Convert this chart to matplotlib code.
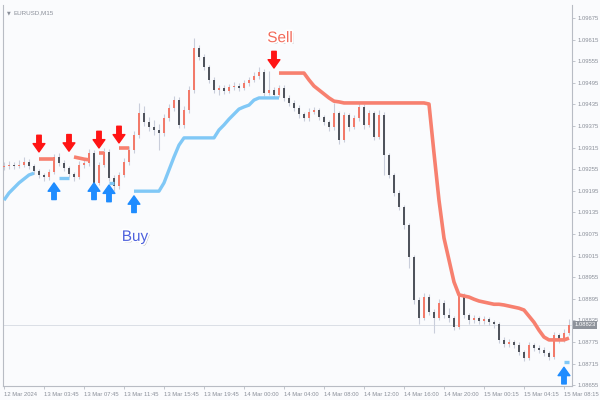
import numpy as np
import matplotlib
matplotlib.use("Agg")
import matplotlib.pyplot as plt
import matplotlib.patheffects as pe

# EURUSD M15 candles (open of first bar, then closes / highs / lows)
first_open = 1.09262
closes = [
    1.09264, 1.09267, 1.09264, 1.09267, 1.09275, 1.09264, 1.09250, 1.09239, 1.09233, 1.09247,
    1.09289, 1.09272, 1.09258, 1.09242, 1.09233, 1.09267, 1.09272, 1.09300, 1.09217, 1.09267,
    1.09303, 1.09230, 1.09208, 1.09239, 1.09275, 1.09308, 1.09350, 1.09411, 1.09386, 1.09372,
    1.09364, 1.09356, 1.09397, 1.09425, 1.09447, 1.09378, 1.09419, 1.09475, 1.09592, 1.09567,
    1.09539, 1.09503, 1.09475, 1.09481, 1.09472, 1.09483, 1.09486, 1.09481, 1.09494, 1.09503,
    1.09514, 1.09525, 1.09467, 1.09475, 1.09461, 1.09481, 1.09453, 1.09439, 1.09425, 1.09408,
    1.09397, 1.09414, 1.09419, 1.09400, 1.09386, 1.09372, 1.09411, 1.09336, 1.09406, 1.09372,
    1.09397, 1.09428, 1.09378, 1.09411, 1.09344, 1.09406, 1.09294, 1.09239, 1.09189, 1.09150,
    1.09100, 1.09011, 1.08892, 1.08842, 1.08900, 1.08858, 1.08842, 1.08883, 1.08850, 1.08842,
    1.08817, 1.08906, 1.08850, 1.08836, 1.08842, 1.08833, 1.08839, 1.08830, 1.08825, 1.08781,
    1.08769, 1.08775, 1.08767, 1.08747, 1.08730, 1.08767, 1.08758, 1.08753, 1.08744, 1.08733,
    1.08794, 1.08781, 1.08800, 1.08823]
highs = [
    1.09275, 1.09278, 1.09275, 1.09280, 1.09289, 1.09283, 1.09270, 1.09256, 1.09245, 1.09256,
    1.09298, 1.09300, 1.09280, 1.09264, 1.09248, 1.09278, 1.09283, 1.09310, 1.09308, 1.09275,
    1.09314, 1.09310, 1.09238, 1.09248, 1.09286, 1.09320, 1.09362, 1.09440, 1.09430, 1.09400,
    1.09392, 1.09380, 1.09408, 1.09436, 1.09458, 1.09455, 1.09430, 1.09486, 1.09620, 1.09600,
    1.09575, 1.09545, 1.09510, 1.09490, 1.09490, 1.09492, 1.09498, 1.09495, 1.09504, 1.09512,
    1.09525, 1.09540, 1.09532, 1.09528, 1.09484, 1.09490, 1.09488, 1.09460, 1.09446, 1.09432,
    1.09414, 1.09424, 1.09428, 1.09426, 1.09406, 1.09392, 1.09440, 1.09418, 1.09414, 1.09412,
    1.09406, 1.09440, 1.09436, 1.09420, 1.09418, 1.09420, 1.09414, 1.09300, 1.09245, 1.09196,
    1.09156, 1.09106, 1.09018, 1.08900, 1.08912, 1.08908, 1.08866, 1.08895, 1.08892, 1.08870,
    1.08848, 1.08914, 1.08912, 1.08856, 1.08850, 1.08848, 1.08846, 1.08845, 1.08836, 1.08832,
    1.08790, 1.08784, 1.08782, 1.08774, 1.08752, 1.08776, 1.08772, 1.08766, 1.08760, 1.08750,
    1.08802, 1.08800, 1.08810, 1.08840]
lows = [
    1.09252, 1.09256, 1.09255, 1.09258, 1.09260, 1.09255, 1.09242, 1.09230, 1.09222, 1.09226,
    1.09242, 1.09265, 1.09250, 1.09234, 1.09222, 1.09228, 1.09258, 1.09264, 1.09208, 1.09210,
    1.09260, 1.09222, 1.09194, 1.09200, 1.09232, 1.09268, 1.09300, 1.09342, 1.09375, 1.09360,
    1.09350, 1.09308, 1.09348, 1.09390, 1.09418, 1.09370, 1.09370, 1.09412, 1.09468, 1.09558,
    1.09530, 1.09495, 1.09466, 1.09462, 1.09464, 1.09466, 1.09476, 1.09472, 1.09475, 1.09486,
    1.09496, 1.09506, 1.09458, 1.09460, 1.09452, 1.09455, 1.09445, 1.09430, 1.09416, 1.09398,
    1.09388, 1.09390, 1.09408, 1.09392, 1.09378, 1.09362, 1.09365, 1.09325, 1.09330, 1.09362,
    1.09366, 1.09390, 1.09368, 1.09372, 1.09336, 1.09338, 1.09240, 1.09230, 1.09180, 1.09142,
    1.09090, 1.08980, 1.08880, 1.08825, 1.08836, 1.08850, 1.08800, 1.08836, 1.08842, 1.08832,
    1.08808, 1.08810, 1.08842, 1.08826, 1.08828, 1.08825, 1.08826, 1.08822, 1.08815, 1.08772,
    1.08760, 1.08762, 1.08758, 1.08740, 1.08722, 1.08724, 1.08750, 1.08745, 1.08736, 1.08725,
    1.08728, 1.08772, 1.08774, 1.08795]

# trailing stop lines: (first bar, values)
sell_stop = [
    (7, [1.09284, 1.09284, 1.09284, 1.09284]),
    (14, [1.09289, 1.09286, 1.09283, 1.09281]),
    (19, [1.09300, 1.09300]),
    (23, [1.09314, 1.09314, 1.09314]),
    (55, [1.09522, 1.09522, 1.09522, 1.09522, 1.09522, 1.09522, 1.09503, 1.09486, 1.09475,
          1.09464, 1.09453, 1.09444, 1.09442, 1.09439, 1.09439, 1.09439, 1.09439, 1.09439,
          1.09439, 1.09439, 1.09439, 1.09439, 1.09439, 1.09439, 1.09439, 1.09439, 1.09439,
          1.09439, 1.09439, 1.09439, 1.09436, 1.09300, 1.09169, 1.09064, 1.09003, 1.08942,
          1.08906, 1.08903, 1.08900, 1.08894, 1.08889, 1.08886, 1.08883, 1.08880, 1.08880,
          1.08878, 1.08875, 1.08872, 1.08869, 1.08864, 1.08847, 1.08830, 1.08808, 1.08789,
          1.08781, 1.08781, 1.08781, 1.08781, 1.08786]),
]
buy_stop = [
    (0, [1.09169, 1.09189, 1.09203, 1.09217, 1.09228, 1.09239, 1.09244]),
    (11, [1.09230, 1.09230, 1.09230]),
    (21, [1.09217, 1.09217]),
    (26, [1.09194, 1.09194, 1.09194, 1.09194, 1.09194, 1.09194, 1.09217, 1.09253, 1.09289,
          1.09322, 1.09342, 1.09342, 1.09342, 1.09342, 1.09342, 1.09342, 1.09342, 1.09364,
          1.09378, 1.09394, 1.09408, 1.09422, 1.09428, 1.09433, 1.09447, 1.09453, 1.09453,
          1.09453, 1.09453, 1.09453]),
    (112, [1.08719, 1.08719]),
]

# signal arrows (bar, tip price)
sell_bars = [7, 13, 19, 23, 54]
sell_tips = [1.09303, 1.09305, 1.09314, 1.09328, 1.09536]
buy_bars = [10, 18, 21, 26, 112]
buy_tips = [1.09217, 1.09217, 1.09211, 1.09181, 1.08705]

x_labels = ["12 Mar 2024", "13 Mar 03:45", "13 Mar 07:45", "13 Mar 11:45", "13 Mar 15:45",
            "13 Mar 19:45", "14 Mar 00:00", "14 Mar 04:00", "14 Mar 08:00", "14 Mar 12:00",
            "14 Mar 16:00", "14 Mar 20:00", "15 Mar 00:15", "15 Mar 04:15", "15 Mar 08:15"]
y_ticks = [1.08655, 1.08715, 1.08775, 1.08835, 1.08895, 1.08955, 1.09015, 1.09075, 1.09135,
           1.09195, 1.09255, 1.09315, 1.09375, 1.09435, 1.09495, 1.09555, 1.09615, 1.09675]

plt.rcParams["font.family"] = ["Liberation Sans", "DejaVu Sans"]
bg = "#fafbfd"
grey = "#8a8f99"
fig = plt.figure(figsize=(6, 4), dpi=100, facecolor=bg)
ax = fig.add_axes([0.005, 0.035, 0.9483, 0.9525], facecolor=bg)

closes = np.array(closes)
opens = np.r_[first_open, closes[:-1]]
x = np.arange(len(closes))
up = closes >= opens

ax.axhline(closes[-1], color="#d6dae2", lw=0.6, zorder=1)
ax.vlines(x, lows, highs, color="#c9cedb", lw=0.8, zorder=2)
h = np.maximum(np.abs(closes - opens), 0.00002)
bot = np.minimum(opens, closes)
ax.bar(x[up], h[up], bottom=bot[up], width=0.5, color="#f27a6a", zorder=3)
ax.bar(x[~up], h[~up], bottom=bot[~up], width=0.5, color="#4f535c", zorder=3)

for start, vals in sell_stop:
    ax.plot(np.arange(start, start + len(vals)), vals, color="#f7806f", lw=2.6,
            solid_capstyle="butt", zorder=4)
for start, vals in buy_stop:
    ax.plot(np.arange(start, start + len(vals)), vals, color="#80c8f6", lw=2.4,
            solid_capstyle="butt", zorder=4)

astyle = "simple,head_length=0.6,head_width=0.85,tail_width=0.32"
for b, p in zip(sell_bars, sell_tips):
    ax.annotate("", xy=(b, p), xytext=(0, 12), textcoords="offset points", zorder=5,
                arrowprops=dict(arrowstyle=astyle, color="#ff1414", shrinkA=0, shrinkB=0,
                                mutation_scale=10))
for b, p in zip(buy_bars, buy_tips):
    ax.annotate("", xy=(b, p), xytext=(0, -12), textcoords="offset points", zorder=5,
                arrowprops=dict(arrowstyle=astyle, color="#1e8cff", shrinkA=0, shrinkB=0,
                                mutation_scale=10))

fx = [pe.SimplePatchShadow(offset=(1.2, -1.2), shadow_rgbFace="#777777", alpha=0.45),
      pe.Stroke(linewidth=2.5, foreground="white"), pe.Normal()]
ax.text(55.2, 1.09619, "Sell", ha="center", va="center", fontsize=11, color="#f26a5a",
        path_effects=fx, zorder=6)
ax.text(26.2, 1.09067, "Buy", ha="center", va="center", fontsize=11, color="#4f62dd",
        path_effects=fx, zorder=6)

ax.set_xlim(-0.2, 113.6)
ax.set_ylim(1.08653, 1.09711)

ax.set_xticks(np.arange(0, len(closes), 8))
ax.set_xticklabels(x_labels, ha="left")
ax.yaxis.tick_right()
ax.set_yticks(y_ticks)
ax.set_yticklabels([f"{v:.5f}" for v in y_ticks])
ax.tick_params(axis="both", labelsize=4.2, labelcolor=grey, color="#b8bcc4",
               length=2.5, width=0.6, pad=1.5)

for s in ["left", "bottom", "right"]:
    ax.spines[s].set_color("#b8bcc4")
    ax.spines[s].set_linewidth(0.8)
ax.spines["top"].set_visible(False)

ax.text(1.004, closes[-1], f"{closes[-1]:.5f}", transform=ax.get_yaxis_transform(),
        ha="left", va="center", fontsize=4.2, color="white", zorder=7, clip_on=False,
        bbox=dict(boxstyle="square,pad=0.25", fc="#8e939b", ec="none"))

fig.text(0.011, 0.969, "\u25bc", fontsize=3.5, color=grey, va="center",
         family="DejaVu Sans")
fig.text(0.022, 0.969, "EURUSD,M15", fontsize=4.5, color=grey, va="center")

fig.savefig("out.png", dpi=100, facecolor=bg)
